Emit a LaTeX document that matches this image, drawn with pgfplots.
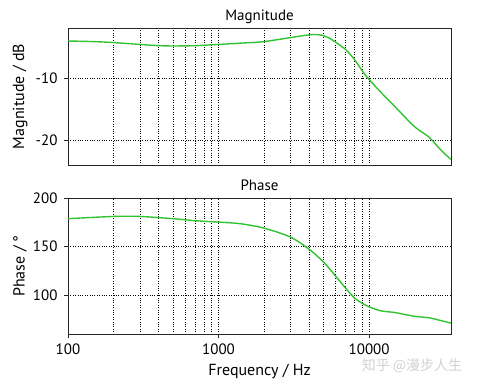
\documentclass[border=0pt]{standalone}
\usepackage{fontspec}
\setmainfont{PT Sans}
\newfontfamily\cjk{Noto Sans CJK SC}
\usepackage{pgfplots}
\pgfplotsset{compat=1.18}
\definecolor{curvegreen}{RGB}{50,195,50}
\pgfplotsset{
  every axis/.append style={
    xmin=100, xmax=35000,
    width=383pt, scale only axis, clip mode=individual,
    xmajorgrids, xminorgrids, ymajorgrids,
    major grid style={black, dotted, line width=0.6pt},
    minor grid style={black, dotted, line width=0.6pt},
    axis line style={black!85, line width=0.8pt},
    tick align=outside, major tick length=4pt, minor tick length=0pt,
    tick style={black!85, line width=0.8pt},
    ytick pos=left, xtick pos=bottom,
    xtick={100,1000,10000},
    tick label style={font=\fontsize{15}{15}\selectfont},
    yticklabel style={xshift=-3pt},
    xticklabel style={yshift=-2pt},
    every axis label/.append style={font=\fontsize{16}{16}\selectfont},
    ylabel style={at={(axis description cs:-0.1253,0.5)}, anchor=center},
  }
}
\begin{document}
\begin{tikzpicture}
\useasboundingbox (0pt,0pt) rectangle (480pt,388pt);
\begin{semilogxaxis}[at={(68pt,223pt)}, anchor=south west, height=137pt,
  ymin=-24, ymax=-1.9, ytick={-10,-20}, yticklabels={-10,-20},
  xticklabels={}, xtick style={draw=none},
  ylabel={Magnitude / dB}]
\addplot[color=curvegreen, line width=1.4pt, smooth] coordinates {
(100,-4.0)(150,-4.1)(200,-4.25)(300,-4.55)(400,-4.75)(500,-4.8)(700,-4.75)
(1000,-4.55)(1500,-4.3)(2000,-4.1)(3000,-3.45)(4000,-3.0)(4500,-2.95)(5000,-3.15)
(5500,-3.6)(6000,-4.2)(7000,-5.4)(8000,-7.0)(9000,-8.8)(10000,-10.2)(12000,-12.3)
(15000,-14.7)(20000,-17.8)(25000,-19.5)(30000,-21.6)(35000,-23.1)};
\node[anchor=base, inner sep=0pt, font=\fontsize{15}{15}\selectfont, yshift=7pt] at (axis description cs:0.5,1) {Magnitude};
\end{semilogxaxis}
\begin{semilogxaxis}[at={(68pt,54pt)}, anchor=south west, height=136pt,
  ymin=60, ymax=200, ytick={100,150,200}, yticklabels={100,150,200},
  xticklabels={100,1000,10000},
  ylabel={Phase / °}, xlabel={Frequency / Hz},
  xlabel style={at={(axis description cs:0.5,-0.279)}, anchor=center}]
\addplot[color=curvegreen, line width=1.4pt, smooth] coordinates {
(100,178.7)(200,181)(300,181)(500,178.7)(700,176.6)(1000,175.2)(1400,173.5)
(2000,169)(3000,159.8)(4000,147.2)(5000,133.8)(6000,119.5)(7000,107)(8000,97)
(9000,91.6)(10000,88)(12000,83.8)(15000,82)(20000,78.2)(25000,76.7)(30000,73.8)(35000,71.2)};
\node[anchor=base, inner sep=0pt, font=\fontsize{15}{15}\selectfont, yshift=7pt] at (axis description cs:0.5,1) {Phase};
\end{semilogxaxis}
\node[anchor=center, text=black!18, font=\cjk\fontsize{14}{14}\selectfont] at (412pt,22pt) {知乎 @漫步人生};
\end{tikzpicture}
\end{document}
